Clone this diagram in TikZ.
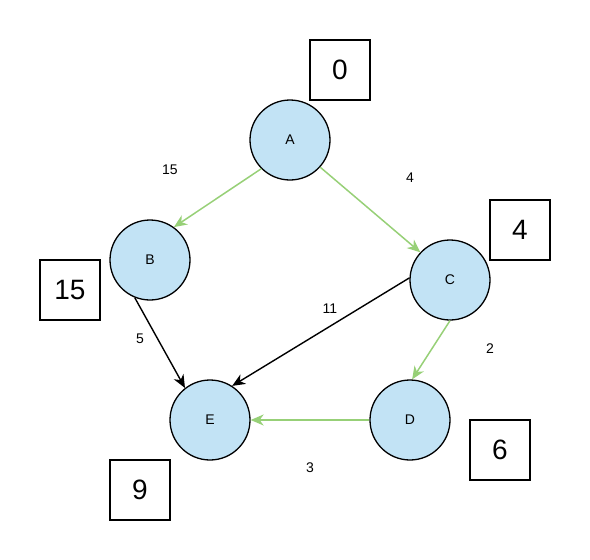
\documentclass[tikz,border=0pt]{standalone}
\usepackage{fontspec}
\setmainfont{Liberation Sans}
\usetikzlibrary{arrows.meta}
\definecolor{nodefill}{RGB}{194,227,245}
\definecolor{grn}{RGB}{151,208,119}
\begin{document}
\begin{tikzpicture}[x=1pt,y=-1pt,
  vert/.style={circle,draw=black,line width=1.3pt,fill=nodefill,minimum size=80pt,inner sep=0pt,font=\fontsize{14}{16}\selectfont},
  dist/.style={draw=black,line width=1.1pt,minimum size=60pt,inner sep=0pt,font=\fontsize{28}{32}\selectfont},
  wlab/.style={font=\fontsize{14}{16}\selectfont},
  gedge/.style={draw=grn,line width=1.5pt,-{Stealth[length=13pt,width=11pt,inset=4pt]}},
  bedge/.style={draw=black,line width=1.4pt,-{Stealth[length=13pt,width=11pt,inset=4pt]}}]
\useasboundingbox (0,0) rectangle (590,560);
\node[vert] (A) at (290,140) {A};
\node[vert] (B) at (150,260) {B};
\node[vert] (C) at (450,280) {C};
\node[vert] (D) at (410,420) {D};
\node[vert] (E) at (210,420) {E};
\node[dist] (dA) at (340,70) {0};
\node[dist] (dC) at (520,230) {4};
\node[dist] (dB) at (70,290) {15};
\node[dist] (dD) at (500,450) {6};
\node[dist] (dE) at (140,490) {9};
\draw[gedge] (A.225) -- (B.54);
\draw[gedge] (A.318) -- (C.137);
\draw[gedge] (C.270) -- (D.87);
\draw[gedge] (D.west) -- (E.east);
\draw[bedge] (B.248) -- (E.128);
\draw[bedge] (C.177) -- (E.57);
\node[wlab] (l15) at (170,170) {15};
\node[wlab] (l4) at (410,178) {4};
\node[wlab] (l11) at (330,309) {11};
\node[wlab] (l5) at (140,339) {5};
\node[wlab] (l2) at (490,349) {2};
\node[wlab] (l3) at (310,468) {3};
\end{tikzpicture}
\end{document}
